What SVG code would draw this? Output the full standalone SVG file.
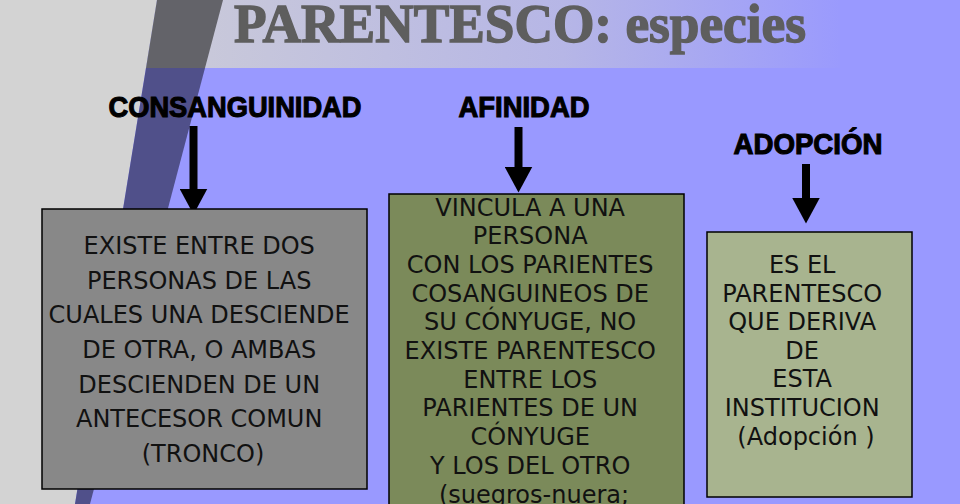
<svg xmlns="http://www.w3.org/2000/svg" width="960" height="504" viewBox="0 0 960 504">
<defs>
<linearGradient id="titleGrad" x1="150" y1="0" x2="840" y2="0" gradientUnits="userSpaceOnUse">
<stop offset="0" stop-color="#cbcbd8"/>
<stop offset="0.6" stop-color="#b6b6e6"/>
<stop offset="1" stop-color="#9a9afd"/>
</linearGradient>
<marker id="head" viewBox="0 0 26 28" markerWidth="26" markerHeight="28" refX="0.5" refY="14" orient="auto" markerUnits="userSpaceOnUse">
<path d="M0,0 L26,14 L0,28 Z" fill="#000"/>
</marker>
<style>
.hdr{font-family:"Liberation Sans",Arial,sans-serif;font-weight:bold;font-size:29px;fill:#000;stroke:#000;stroke-width:1.1px;text-anchor:middle}
.body{font-family:"DejaVu Sans",Verdana,sans-serif;font-size:24px;fill:#111;text-anchor:middle}
.box{stroke:#000;stroke-width:1.5}
.conn{stroke:#000;stroke-width:8;fill:none;marker-end:url(#head)}
</style>
</defs>
<g id="background">
<rect x="0" y="0" width="960" height="504" fill="#d3d3d3"/>
<polygon points="157,0 960,0 960,504 75,504" fill="#9999ff"/>
<polygon points="157,0 840,0 840,68 146,68" fill="url(#titleGrad)"/>
<polygon points="157,0 223,0 205,68 146,68" fill="#636369"/>
<polygon points="146,68 205,68 90,504 75,504" fill="#50508a"/>
</g>
<g id="title">
<text x="234" y="42" font-family="'Liberation Serif','Times New Roman',serif" font-weight="bold" font-size="54" fill="#5e5e5e" stroke="#5e5e5e" stroke-width="1.4" textLength="572" lengthAdjust="spacingAndGlyphs">PARENTESCO: especies</text>
</g>
<g id="hdr-consanguinidad">
<text class="hdr" x="235" y="117" textLength="253" lengthAdjust="spacingAndGlyphs">CONSANGUINIDAD</text>
</g>
<g id="hdr-afinidad">
<text class="hdr" x="524" y="117" textLength="131" lengthAdjust="spacingAndGlyphs">AFINIDAD</text>
</g>
<g id="hdr-adopcion">
<text class="hdr" x="808" y="154" textLength="149" lengthAdjust="spacingAndGlyphs">ADOPCIÓN</text>
</g>
<g id="connectors">
<line class="conn" x1="193.5" y1="126" x2="193.5" y2="189"/>
<line class="conn" x1="518.5" y1="127" x2="518.5" y2="167"/>
<line class="conn" x1="806" y1="164" x2="806" y2="198"/>
</g>
<g id="box-consanguinidad">
<rect class="box" x="42" y="209" width="325" height="280" fill="#888888"/>
<text class="body" x="203">
<tspan x="203" y="254">EXISTE ENTRE DOS</tspan>
<tspan x="203" y="289">PERSONAS DE LAS</tspan>
<tspan x="203" y="323">CUALES UNA DESCIENDE</tspan>
<tspan x="203" y="358">DE OTRA, O AMBAS</tspan>
<tspan x="203" y="393">DESCIENDEN DE UN</tspan>
<tspan x="203" y="427">ANTECESOR COMUN</tspan>
<tspan x="203" y="462">(TRONCO)</tspan>
</text>
</g>
<g id="box-afinidad">
<rect class="box" x="389" y="194" width="295" height="330" fill="#7b8a5a"/>
<text class="body" x="534">
<tspan x="534" y="215.5">VINCULA A UNA</tspan>
<tspan x="534" y="244.2">PERSONA</tspan>
<tspan x="534" y="272.9">CON LOS PARIENTES</tspan>
<tspan x="534" y="301.6">COSANGUINEOS DE</tspan>
<tspan x="534" y="330.3">SU CÓNYUGE, NO</tspan>
<tspan x="534" y="359">EXISTE PARENTESCO</tspan>
<tspan x="534" y="387.7">ENTRE LOS</tspan>
<tspan x="534" y="416.4">PARIENTES DE UN</tspan>
<tspan x="534" y="445.1">CÓNYUGE</tspan>
<tspan x="534" y="473.8">Y LOS DEL OTRO</tspan>
<tspan x="534" y="502.5">(suegros-nuera;</tspan>
</text>
</g>
<g id="box-adopcion">
<rect class="box" x="707" y="232" width="205" height="265" fill="#a8b48f"/>
<text class="body" x="806">
<tspan x="806" y="273">ES EL</tspan>
<tspan x="806" y="302">PARENTESCO</tspan>
<tspan x="806" y="330">QUE DERIVA</tspan>
<tspan x="806" y="359">DE</tspan>
<tspan x="806" y="387">ESTA</tspan>
<tspan x="806" y="416">INSTITUCION</tspan>
<tspan x="806" y="445">(Adopción )</tspan>
</text>
</g>
</svg>
